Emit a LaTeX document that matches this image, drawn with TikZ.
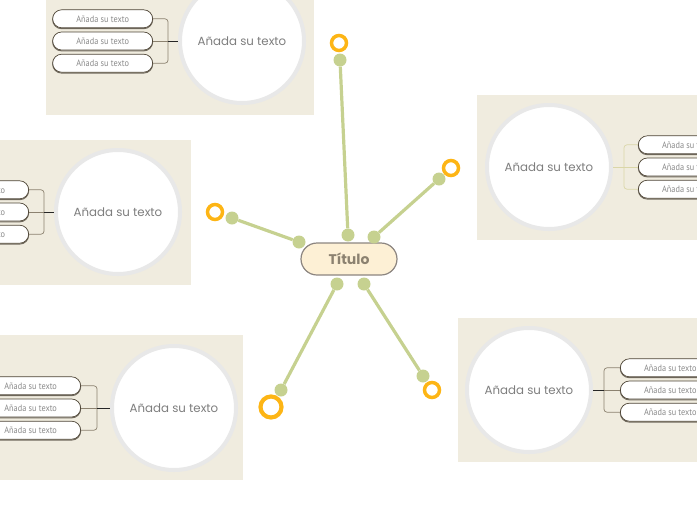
\documentclass[tikz,border=0pt]{standalone}
\usepackage{fontspec}
\usepackage{tikz}
\usetikzlibrary{positioning}
\newfontfamily\topicfont{Poppins}
\newfontfamily\boxfont[FakeStretch=0.9]{PT Sans}
\definecolor{panelbg}{HTML}{F0ECDF}
\definecolor{ringline}{HTML}{E8E8E8}
\definecolor{boxline}{HTML}{4E4536}
\definecolor{brk}{HTML}{8C8270}
\definecolor{brklight}{HTML}{DAD6A8}
\definecolor{spokegreen}{HTML}{C6D190}
\definecolor{ringyellow}{HTML}{FDB515}
\definecolor{titlefill}{HTML}{FDF0D5}
\definecolor{titleline}{HTML}{8C8580}
\definecolor{greytext}{HTML}{8A8A8A}
\definecolor{topictext}{HTML}{7E7E7E}
\tikzset{
topic/.style = {circle, fill=white, draw=ringline, line width=4pt, minimum size=124pt,
  inner sep=0pt, text=topictext, font=\topicfont\fontsize{11.8}{13}\selectfont},% cercle
subbox/.style = {rectangle, rounded corners=9pt, minimum width=100pt, minimum height=18pt,
  inner sep=0pt, fill=white, draw=boxline, line width=0.7pt, text=greytext,
  font=\boxfont\fontsize{9.2}{10}\selectfont,
  preaction={draw=boxline!80, line width=1pt, transform canvas={yshift=-0.9pt}}},% sous-texte
titlenode/.style = {rectangle, rounded corners=16pt, minimum width=96pt, minimum height=32pt,
  fill=titlefill, draw=titleline, line width=1.2pt, text=brk,
  font=\topicfont\bfseries\fontsize{14}{16}\selectfont},
dot/.style = {circle, fill=spokegreen, minimum size=13pt, inner sep=0pt},
ring/.style = {circle, draw=ringyellow, line width=3.5pt, minimum size=15pt, inner sep=0pt},
spoke/.style = {draw=spokegreen, line width=3.2pt},
bracket/.style = {draw=brk, line width=0.7pt, rounded corners=3pt},
stem/.style = {draw=black!85, line width=0.9pt}
}
\begin{document}
\begin{tikzpicture}[x=1pt,y=-1pt,node distance=3.5pt]
\useasboundingbox (0,0) rectangle (697,520);
\clip (0,0) rectangle (697,520);
% fonds
\fill[panelbg] (46,0) rectangle (314,115);
\fill[panelbg] (477,95) rectangle (697,240);
\fill[panelbg] (0,140) rectangle (191,285);
\fill[panelbg] (0,335) rectangle (243,480);
\fill[panelbg] (458,318) rectangle (697,462);
% haut gauche
\node [topic] (t1) at (242,41) {Añada su texto};
\node [subbox, left=25pt of t1] (b1m) {Añada su texto};
\node [subbox, above=of b1m] (b1t) {Añada su texto};
\node [subbox, below=of b1m] (b1b) {Añada su texto};
\coordinate (j1) at ([xshift=-10pt]t1.west);
\draw[bracket] (b1t.east) -| (j1) |- (b1b.east);
\draw[bracket] (b1m.east) -- (j1);
\draw[stem] (j1) -- (t1.west);
% droite
\node [topic] (t2) at (549,167) {Añada su texto};
\node [subbox, right=25pt of t2] (b2m) {Añada su texto};
\node [subbox, above=of b2m] (b2t) {Añada su texto};
\node [subbox, below=of b2m] (b2b) {Añada su texto};
\coordinate (j2) at ([xshift=11pt]t2.east);
\draw[bracket, draw=brklight] (b2t.west) -| (j2) |- (b2b.west);
\draw[bracket, draw=brklight] (b2m.west) -- (j2);
\draw[stem, draw=brklight] (j2) -- (t2.east);
% gauche
\node [topic] (t3) at (118,212) {Añada su texto};
\node [subbox, left=25pt of t3] (b3m) {Añada su texto};
\node [subbox, above=of b3m] (b3t) {Añada su texto};
\node [subbox, below=of b3m] (b3b) {Añada su texto};
\coordinate (j3) at ([xshift=-10pt]t3.west);
\draw[bracket] (b3t.east) -| (j3) |- (b3b.east);
\draw[bracket] (b3m.east) -- (j3);
\draw[stem] (j3) -- (t3.west);
% bas gauche
\node [topic] (t4) at (174,408) {Añada su texto};
\node [subbox, left=29pt of t4] (b4m) {Añada su texto};
\node [subbox, above=of b4m] (b4t) {Añada su texto};
\node [subbox, below=of b4m] (b4b) {Añada su texto};
\coordinate (j4) at ([xshift=-13pt]t4.west);
\draw[bracket] (b4t.east) -| (j4) |- (b4b.east);
\draw[bracket] (b4m.east) -- (j4);
\draw[stem] (j4) -- (t4.west);
% bas droite
\node [topic] (t5) at (529,390) {Añada su texto};
\node [subbox, right=27pt of t5] (b5m) {Añada su texto};
\node [subbox, above=of b5m] (b5t) {Añada su texto};
\node [subbox, below=of b5m] (b5b) {Añada su texto};
\coordinate (j5) at ([xshift=11pt]t5.east);
\draw[bracket] (b5t.west) -| (j5) |- (b5b.west);
\draw[bracket] (b5m.west) -- (j5);
\draw[stem] (j5) -- (t5.east);
% centre
\node [titlenode] (title) at (349,259) {Título};
\node [dot] (d1a) at (299,242) {};
\node [dot] (d1b) at (232,218) {};
\node [ring] (r1) at (215,212) {};
\node [dot] (d2a) at (348,235) {};
\node [dot] (d2b) at (340,60) {};
\node [ring] (r2) at (339,43) {};
\node [dot] (d3a) at (374,237) {};
\node [dot] (d3b) at (439,179) {};
\node [ring] (r3) at (451,168) {};
\node [dot] (d4a) at (337,284) {};
\node [dot] (d4b) at (281,390) {};
\node [ring, minimum size=21pt, line width=4.2pt] (r4) at (271,407) {};
\node [dot] (d5a) at (364,284) {};
\node [dot] (d5b) at (423,376) {};
\node [ring] (r5) at (432,390) {};
\draw[spoke] (d1a) -- (d1b);
\draw[spoke] (d2a) -- (d2b);
\draw[spoke] (d3a) -- (d3b);
\draw[spoke] (d4a) -- (d4b);
\draw[spoke] (d5a) -- (d5b);
\end{tikzpicture}
\end{document}
